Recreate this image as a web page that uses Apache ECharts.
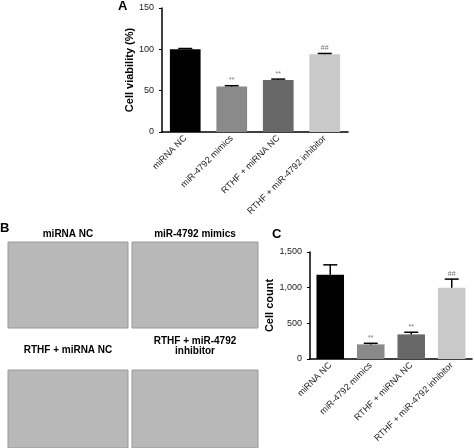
<!DOCTYPE html>
<html>
<head>
<meta charset="utf-8">
<script src="https://cdn.jsdelivr.net/npm/echarts@6/dist/echarts.min.js"></script>
<style>body{margin:0;background:#fff}#main{width:474px;height:448px}</style>
</head>
<body>
<div id="main"></div>
<script>
var groups = ['miRNA NC', 'miR-4792 mimics', 'RTHF + miRNA NC', 'RTHF + miR-4792 inhibitor'];
var barColors = ['#000000', '#8a8a8a', '#686868', '#c9c9c9'];
var viability = [100, 55, 63, 94];
var viabilityErr = [1, 1, 1, 1];
var viabilityMarks = ['', '**', '**', '##'];
var cellCount = [1180, 205, 345, 1000];
var cellCountErr = [140, 15, 30, 120];
var cellCountMarks = ['', '**', '**', '##'];
var panelBTitles = ['miRNA NC', 'miR-4792 mimics', 'RTHF + miRNA NC', 'RTHF + miR-4792\ninhibitor'];

var myChart = echarts.init(document.getElementById('main'));
var font = 'Liberation Sans, Arial, sans-serif';

function barData(vals) {
  return vals.map(function (v, i) { return {value: v, itemStyle: {color: barColors[i]}}; });
}
function errSeries(idx, vals, errs, marks) {
  return {
    type: 'custom', xAxisIndex: idx, yAxisIndex: idx, z: 5,
    data: vals.map(function (v, i) { return [i, v, errs[i], marks[i]]; }),
    renderItem: function (params, api) {
      var top = api.coord([api.value(0), api.value(1) + api.value(2)]);
      var bot = api.coord([api.value(0), api.value(1)]);
      var w = 7;
      var mark = marks[params.dataIndex];
      return {type: 'group', children: [
        {type: 'line', shape: {x1: top[0], y1: top[1], x2: bot[0], y2: bot[1]}, style: {stroke: '#000', lineWidth: 1.5}},
        {type: 'line', shape: {x1: top[0] - w, y1: top[1], x2: top[0] + w, y2: top[1]}, style: {stroke: '#000', lineWidth: 1.5}},
        {type: 'text', x: top[0], y: top[1] - 2, style: {text: mark, fill: '#777', font: '7px ' + font, align: 'center', verticalAlign: 'bottom'}}
      ]};
    }
  };
}
function xAx(idx) {
  return {type: 'category', gridIndex: idx, data: groups,
    axisLine: {lineStyle: {color: '#000', width: 1.5}}, axisTick: {show: false},
    axisLabel: {rotate: 45, color: '#222', fontSize: 9, fontFamily: font, interval: 0, margin: 5}};
}
function yAx(idx, max, interval, name, fmt) {
  return {type: 'value', gridIndex: idx, min: 0, max: max, interval: interval,
    name: name, nameLocation: 'middle', nameGap: idx === 0 ? 26 : 34,
    nameTextStyle: {fontWeight: 'bold', fontSize: 11, color: '#000', fontFamily: font},
    splitLine: {show: false}, axisLine: {show: true, lineStyle: {color: '#000', width: 1.5}},
    axisTick: {show: true, length: 3, lineStyle: {color: '#000'}},
    axisLabel: {color: '#222', fontSize: 9, fontFamily: font, formatter: fmt}};
}

var graphics = [
  {type: 'text', left: 118, top: 0, style: {text: 'A', font: 'bold 13px ' + font, fill: '#000'}},
  {type: 'text', left: 0, top: 222, style: {text: 'B', font: 'bold 13px ' + font, fill: '#000'}},
  {type: 'text', left: 272, top: 228, style: {text: 'C', font: 'bold 13px ' + font, fill: '#000'}}
];
var imgBoxes = [[8, 242, 120, 86], [132, 242, 126, 86], [8, 370, 120, 78], [132, 370, 126, 78]];
var titleY = [229, 229, 345, 336];
imgBoxes.forEach(function (b, i) {
  graphics.push({type: 'rect', shape: {x: b[0], y: b[1], width: b[2], height: b[3]},
    style: {fill: '#b8b8b8', stroke: '#999'}});
  graphics.push({type: 'text', x: b[0] + b[2] / 2, y: titleY[i],
    style: {text: panelBTitles[i], font: 'bold 10px ' + font, fill: '#000', align: 'center'}});
});

myChart.setOption({
  animation: false,
  grid: [
    {left: 162, top: 8, width: 186, height: 124},
    {left: 310, top: 252, width: 162, height: 107}
  ],
  xAxis: [xAx(0), xAx(1)],
  yAxis: [
    yAx(0, 150, 50, 'Cell viability (%)'),
    yAx(1, 1500, 500, 'Cell count', function (v) { return v.toLocaleString('en-US'); })
  ],
  series: [
    {type: 'bar', xAxisIndex: 0, yAxisIndex: 0, barWidth: '66%', data: barData(viability)},
    errSeries(0, viability, viabilityErr, viabilityMarks),
    {type: 'bar', xAxisIndex: 1, yAxisIndex: 1, barWidth: '68%', data: barData(cellCount)},
    errSeries(1, cellCount, cellCountErr, cellCountMarks)
  ],
  graphic: graphics
});
</script>
</body>
</html>
